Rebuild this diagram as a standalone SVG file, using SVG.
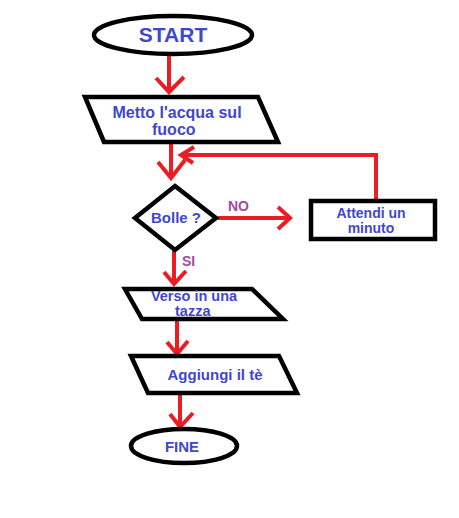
<svg xmlns="http://www.w3.org/2000/svg" width="459" height="518" viewBox="0 0 459 518">
<style>
.shape{fill:#fff;stroke:#000;stroke-width:4.5}
.conn{fill:none;stroke:#ED1C24;stroke-width:4;stroke-linecap:butt;stroke-linejoin:miter}
.t{font-family:"Liberation Sans",Arial,sans-serif;font-weight:bold;fill:#3F48CC;font-size:15px}
.lbl{font-family:"Liberation Sans",Arial,sans-serif;font-weight:bold;fill:#A349A4;font-size:14px}
</style>
<rect width="459" height="518" fill="#fff"/>
<g id="connectors">
<path class="conn" d="M169,56 V92 M156,78 L169,92 L184,77"/>
<path class="conn" d="M171,143 V178 M158,162 L171,178 L185,160"/>
<path class="conn" d="M376,200 V155 H181 M194,147 L181,155 L193,163"/>
<path class="conn" d="M218,218 H290 M278,207 L290,218 L278,229"/>
<path class="conn" d="M174,251 V284 M164,272 L174,284 L186,271"/>
<path class="conn" d="M177,320 V354 M167,342 L177,354 L188,341"/>
<path class="conn" d="M180,394 V427 M170,414 L180,427 L193,413"/>
</g>
<g id="start">
<ellipse class="shape" cx="173" cy="35" rx="79" ry="19"/>
<text class="t" x="173" y="42" text-anchor="middle" style="font-size:21px">START</text>
</g>
<g id="metto">
<polygon class="shape" points="85,97 258,97 278,142 104,142"/>
<text class="t" x="177" y="118" text-anchor="middle" style="font-size:16px">Metto l'acqua sul</text>
<text class="t" x="152" y="135" style="font-size:16px">fuoco</text>
</g>
<g id="bolle">
<polygon class="shape" points="175,186 216,218 175,250 135,218"/>
<text class="t" x="176" y="223" text-anchor="middle">Bolle ?</text>
</g>
<g id="attendi">
<rect class="shape" x="311" y="201" width="124" height="38"/>
<text class="t" x="371" y="218" text-anchor="middle" style="font-size:14px">Attendi un</text>
<text class="t" x="371" y="233" text-anchor="middle" style="font-size:14px">minuto</text>
</g>
<text class="lbl" x="228" y="211">NO</text>
<text class="lbl" x="182" y="266">SI</text>
<g id="verso">
<polygon class="shape" points="125,289 252,289 283,319 142,319"/>
<text class="t" x="194" y="301" text-anchor="middle" style="font-size:14.5px">Verso in una</text>
<text class="t" x="175" y="316" style="font-size:14.5px">tazza</text>
</g>
<g id="aggiungi">
<polygon class="shape" points="131,356 279,356 297,393 148,393"/>
<text class="t" x="215" y="380" text-anchor="middle">Aggiungi il tè</text>
</g>
<g id="fine">
<ellipse class="shape" cx="184" cy="446" rx="53" ry="17"/>
<text class="t" x="182" y="452" text-anchor="middle">FINE</text>
</g>
</svg>
